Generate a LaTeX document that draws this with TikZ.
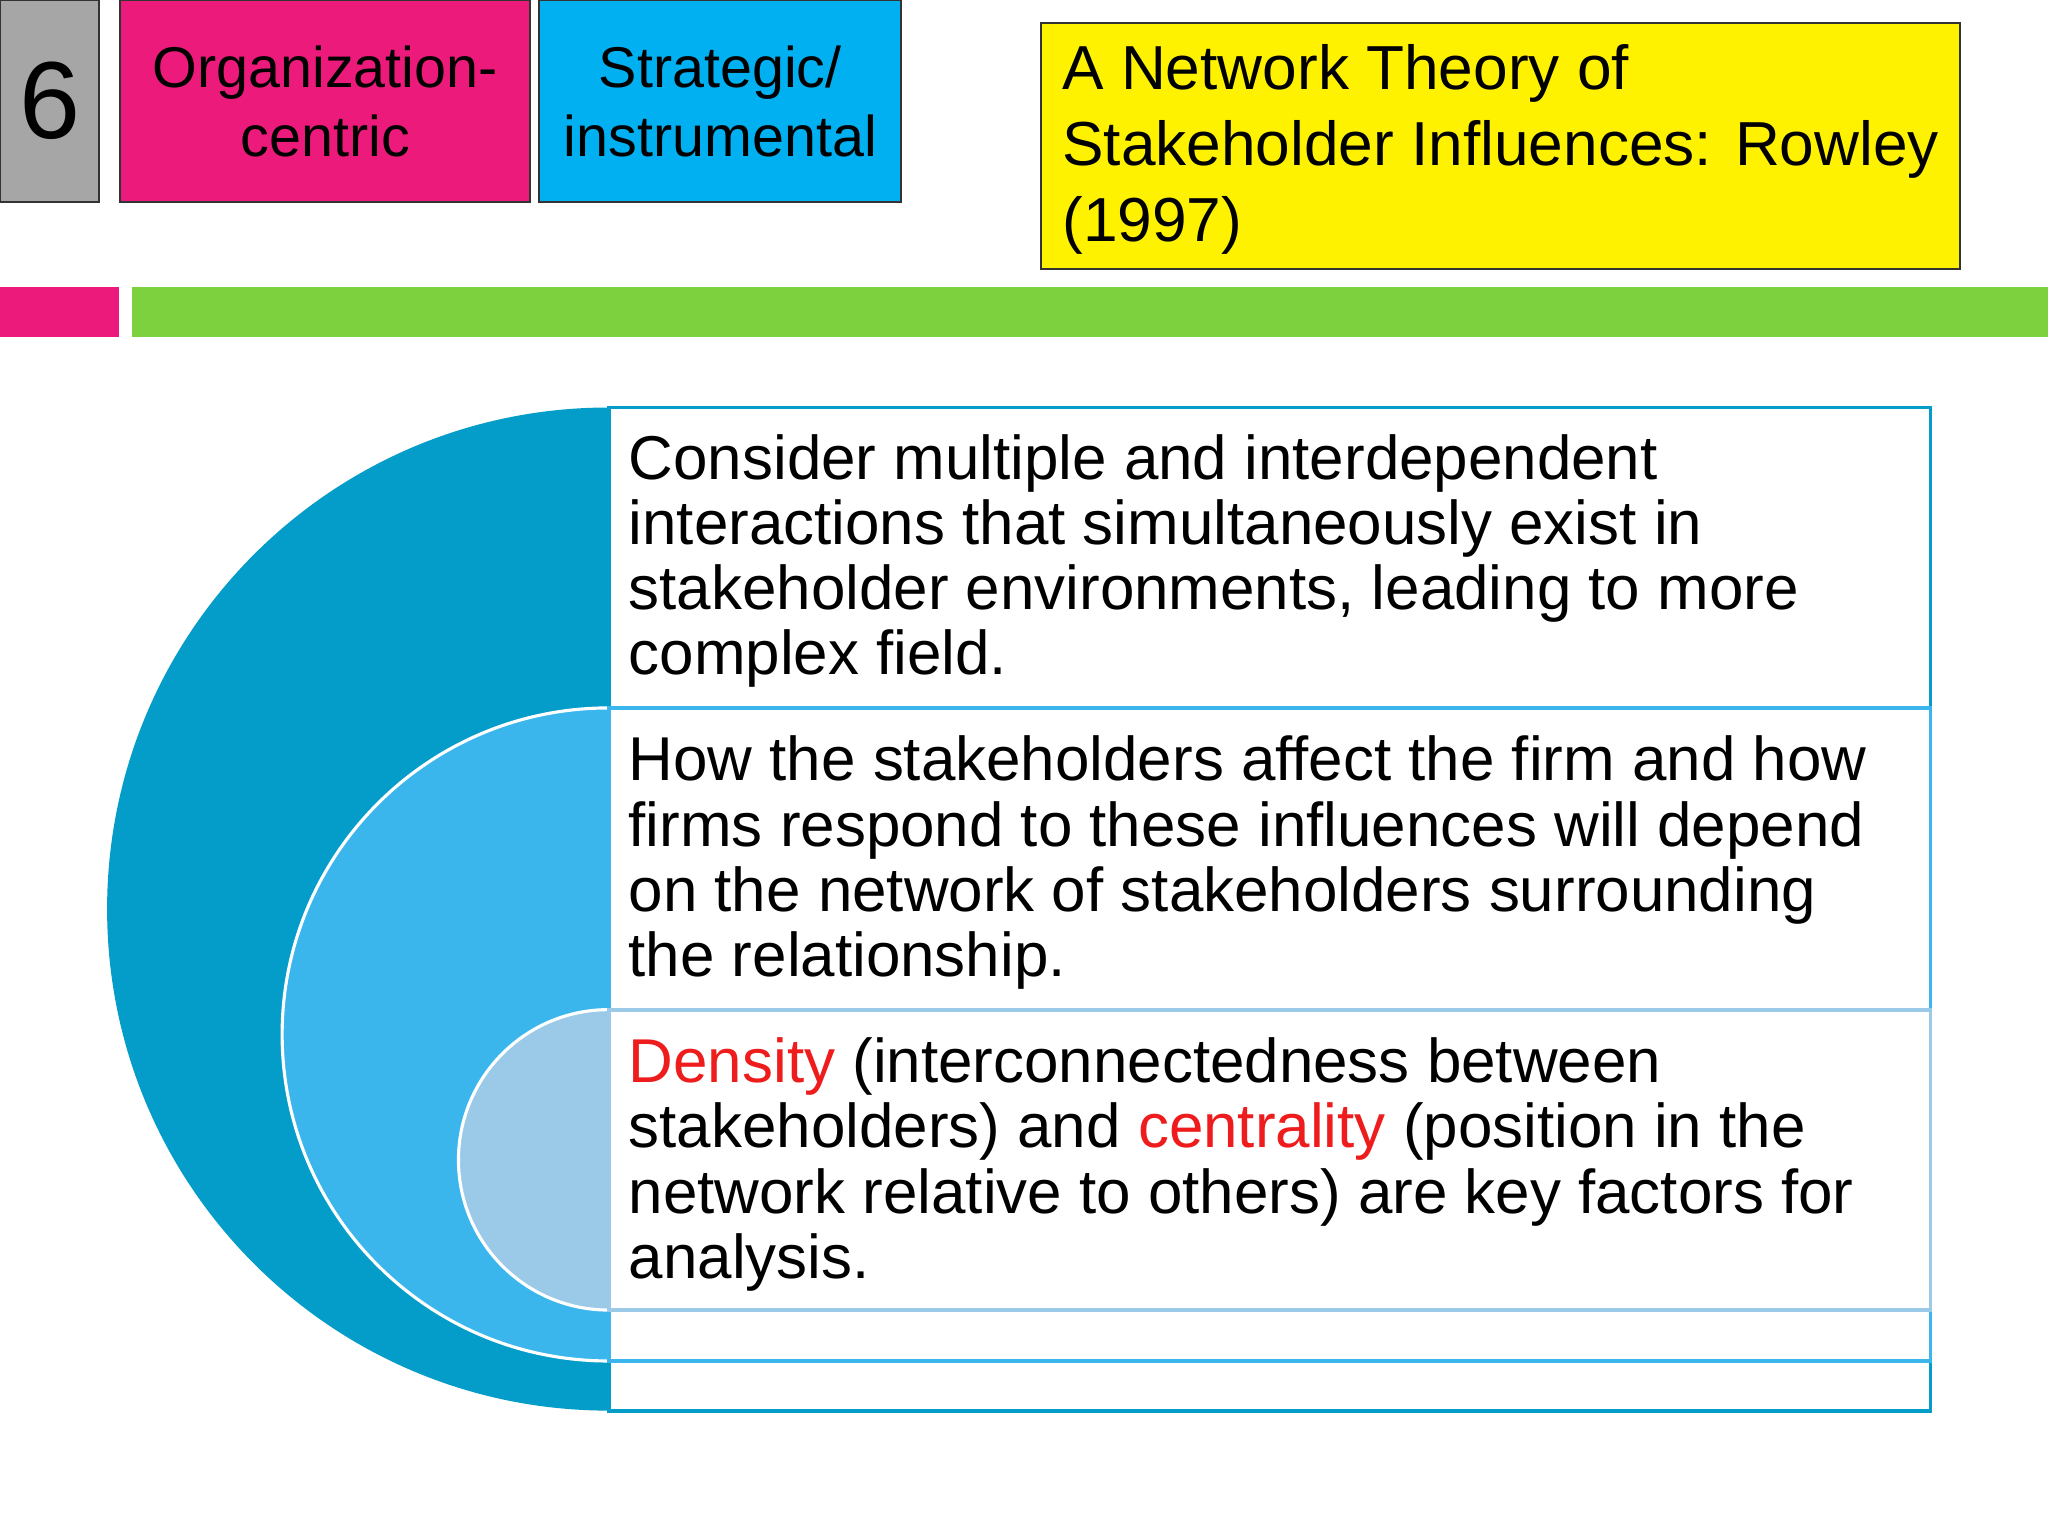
\documentclass[tikz,border=0pt]{standalone}
\usepackage{fontspec}
\setmainfont{Liberation Sans}
\definecolor{gr}{HTML}{A6A6A6}
\definecolor{pk}{HTML}{EC1A7B}
\definecolor{cy}{HTML}{00B0F0}
\definecolor{lg}{HTML}{7DD13F}
\definecolor{c1}{HTML}{049CC8}
\definecolor{c2}{HTML}{3BB6EC}
\definecolor{c3}{HTML}{9ACAE8}
\definecolor{rd}{HTML}{EE1C1C}
\begin{document}
\begin{tikzpicture}[x=0.5pt,y=-0.5pt,
  hdr/.style={draw=black!80,line width=0.8pt,align=center,font=\fontsize{22}{26.5}\selectfont,inner sep=0pt},
  body/.style={anchor=north west,align=left,inner sep=0pt,font=\fontsize{23.7}{25}\selectfont}]
\useasboundingbox (0,0) rectangle (1568,1176);
\fill[white] (0,0) rectangle (1568,1176);
\node[hdr,fill=gr,minimum width=38pt,minimum height=77.5pt,font=\fontsize{42}{42}\selectfont] (n6) at (38,77.5) {6};
\node[hdr,fill=pk,minimum width=157pt,minimum height=77.5pt] (org) at (249,77.5) {Organization-\\centric};
\node[hdr,fill=cy,minimum width=138.5pt,minimum height=77.5pt] (str) at (551.5,77.5) {Strategic/\\instrumental};
\node[draw=black!80,line width=0.8pt,fill=yellow,minimum width=352pt,minimum height=94pt,anchor=north west,inner sep=0pt] (ttl) at (796,17) {};
\node[anchor=north west,align=left,inner sep=0pt,font=\fontsize{23.8}{29}\selectfont] (ttlt) at (813,34) {A Network Theory of\\Stakeholder Influences: Rowley\\(1997)};
\fill[pk] (0,220) rectangle (91,258);
\fill[lg] (101,220) rectangle (1568,258);
% semicircles
\fill[c1] (466,312) arc[start angle=270,end angle=90,radius=384] -- cycle;
\filldraw[fill=c2,draw=white,line width=1.2pt] (466,542) arc[start angle=270,end angle=90,radius=250] -- cycle;
\filldraw[fill=c3,draw=white,line width=1.2pt] (466,773) arc[start angle=270,end angle=90,radius=115] -- cycle;
% boxes
\draw[c1,line width=1.5pt,fill=white] (466,1042) rectangle (1478,1080);
\draw[c2,line width=1.5pt,fill=white] (466,1003) rectangle (1478,1042);
\draw[c1,line width=1.5pt,fill=white] (466,312) rectangle (1478,542);
\draw[c2,line width=1.5pt,fill=white] (466,542) rectangle (1478,773);
\draw[c3,line width=1.5pt,fill=white] (466,773) rectangle (1478,1003);
\node[body] (t1) at (481,332) {Consider multiple and interdependent\\interactions that simultaneously exist in\\stakeholder environments, leading to more\\complex field.};
\node[body] (t2) at (481,563) {How the stakeholders affect the firm and how\\firms respond to these influences will depend\\on the network of stakeholders surrounding\\the relationship.};
\node[body] (t3) at (481,794) {\textcolor{rd}{Density} (interconnectedness between\\stakeholders) and \textcolor{rd}{centrality} (position in the\\network relative to others) are key factors for\\analysis.};
\end{tikzpicture}
\end{document}
